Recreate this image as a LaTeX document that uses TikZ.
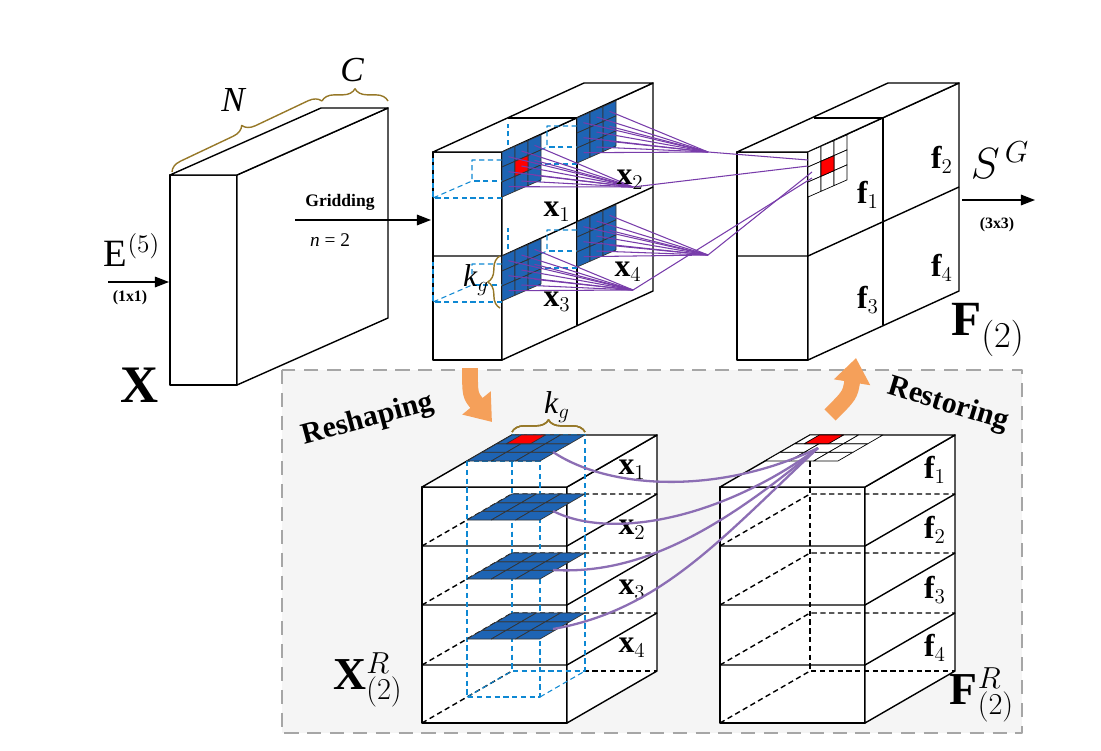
\documentclass[tikz,border=0pt]{standalone}
\usepackage{fontspec}
\setmainfont{Liberation Serif}
\usetikzlibrary{arrows.meta,positioning,decorations.pathreplacing}
\definecolor{gridblue}{RGB}{30,100,180}
\definecolor{braceol}{RGB}{150,120,40}
\definecolor{fanpurple}{RGB}{120,60,170}
\definecolor{curvepurple}{RGB}{140,110,180}
\definecolor{arrorange}{RGB}{245,160,90}
% vertical 3x3 grid on a side face: top-left corner, fill, lines, centre fill
\newcommand{\sidegrid}[5]{%
  \foreach \i in {0,1,2} \foreach \j in {0,1,2}
    \filldraw[fill=#3,draw=#4] (#1+\i*13,#2-\i*5.7+\j*15) -- ++(13,-5.7) -- ++(0,15) -- ++(-13,5.7) -- cycle;
  \filldraw[fill=#5,draw=#4] (#1+13,#2-5.7+15) -- ++(13,-5.7) -- ++(0,15) -- ++(-13,5.7) -- cycle;}
% flat 3x3 grid: front-left corner, fill, line colour
\newcommand{\flatgrid}[4]{%
  \foreach \i in {0,1,2} \foreach \j in {0,1,2}
    \filldraw[fill=#3,draw=#4] (#1+\i*24.3+\j*15,#2-\j*8.67) -- ++(24.3,0) -- ++(15,-8.67) -- ++(-24.3,0) -- cycle;}
\begin{document}
\begin{tikzpicture}[x=0.02cm,y=-0.02cm,line join=round]
  \tikzset{edge/.style={black,thick},
    hidden/.style={black,thick,dashed,dash pattern=on 3pt off 2pt},
    cyanline/.style={cyan!70!blue,semithick,dash pattern=on 3pt off 2pt},
    fan/.style={fanpurple,semithick},
    curve/.style={curvepurple,line width=1.3pt},
    lbl/.style={font=\fontsize{18}{18}\selectfont},
    bracebr/.style={braceol,thick,decorate,decoration={brace,amplitude=7pt}},
    flow/.style={arrorange,line width=9pt,-{Triangle[length=14pt,width=20pt]}}}
  \useasboundingbox (0,0) rectangle (1101,750);

  % dashed panel
  \draw[gray!70,fill=gray!8,thick,dash pattern=on 8pt off 5pt] (282,370) rectangle (1022,733);

  % input block X
  \draw[edge,fill=white] (170,175) rectangle (237,385);
  \draw[edge,fill=white] (237,175) -- (388,108) -- (388,318) -- (237,385) -- cycle;
  \draw[edge,fill=white] (170,175) -- (321,108) -- (388,108) -- (237,175) -- cycle;
  \draw[bracebr] (172,172) -- (322,101);
  \draw[bracebr] (322,101) -- (388,101);
  \node[font=\fontsize{20}{20}\selectfont\itshape] (N) at (233,100) {N};
  \node[font=\fontsize{20}{20}\selectfont\itshape] (C) at (352,70) {C};
  \node[font=\fontsize{30}{30}\selectfont\bfseries] (X) at (140,385) {X};
  \node[font=\fontsize{22}{22}\selectfont] (E) at (132,250) {E$^{(5)}$};
  \node[font=\fontsize{9}{9}\selectfont\bfseries] (E11) at (130,298) {(1x1)};
  \coordinate (ein) at (108,282);
  \coordinate (eout) at (169,282);
  \draw[thick,-{Triangle[length=8pt,width=6pt]}] (ein) -- (eout);

  % gridding
  \node[font=\fontsize{10}{10}\selectfont\bfseries] (grd) at (340,202) {Gridding};
  \node[font=\fontsize{11}{11}\selectfont] (n2) at (330,240) {\textit{n} = 2};
  \coordinate (gin) at (295,220);
  \coordinate (gout) at (431,220);
  \draw[thick,-{Triangle[length=8pt,width=6pt]}] (gin) -- (gout);

  % gridded block
  \draw[edge,fill=white] (433,152) rectangle (502,360);
  \draw[edge,fill=white] (502,152) -- (653,83) -- (653,291) -- (502,360) -- cycle;
  \draw[edge,fill=white] (433,152) -- (584,83) -- (653,83) -- (502,152) -- cycle;
  \draw[edge] (433,256) -- (502,256) -- (653,187);
  \draw[edge] (577,118) -- (577,325);
  \draw[edge] (508,118) -- (577,118);
  \foreach \gx/\gy in {502/152,577/118,502/256,577/222}{
    \draw[cyanline] (\gx,\gy+46) -- (\gx-69,\gy+46) -- (\gx-69,\gy+6);
    \draw[cyanline] (\gx,\gy+8) -- (\gx-30,\gy+8) -- (\gx-30,\gy+29) -- (\gx-69,\gy+46);
    \draw[cyanline] (\gx+39,\gy+29) -- (\gx-30,\gy+29);}
  \sidegrid{502}{152}{gridblue}{black!80}{red}
  \sidegrid{577}{118}{gridblue}{black!80}{gridblue}
  \sidegrid{502}{256}{gridblue}{black!80}{gridblue}
  \sidegrid{577}{222}{gridblue}{black!80}{gridblue}
  \draw[bracebr] (500,308) -- (500,256);
  \node[font=\fontsize{18}{18}\selectfont\itshape] (kg) at (476,280) {k$_g$};

  % output block F
  \draw[edge,fill=white] (737,152) rectangle (808,360);
  \draw[edge,fill=white] (808,152) -- (959,83) -- (959,291) -- (808,360) -- cycle;
  \draw[edge,fill=white] (737,152) -- (888,83) -- (959,83) -- (808,152) -- cycle;
  \draw[edge] (737,256) -- (808,256) -- (959,187);
  \draw[edge] (883,118) -- (883,325);
  \draw[edge] (814,118) -- (883,118);
  \sidegrid{808}{152}{white}{black}{red}
  \coordinate (fc) at (826,170);

  % fans
  \foreach \gx/\gy/\px/\py/\tx/\ty in {502/152/633/187/808/166, 577/118/708/152/808/160,
      502/256/633/290/812/178, 577/222/708/255/812/172}{
    \foreach \i in {0,1,2} \foreach \j in {0,1,2}
      \draw[fan] (\gx+\i*13+6.5,\gy-\i*5.7-2.8+\j*15+7.5) -- (\px,\py);
    \draw[fan] (\px,\py) -- (\tx,\ty);}

  \node[lbl] (x1) at (557,212) {$\mathbf{x}_1$};
  \node[lbl] (x2) at (630,180) {$\mathbf{x}_2$};
  \node[lbl] (x3) at (557,302) {$\mathbf{x}_3$};
  \node[lbl] (x4) at (628,272) {$\mathbf{x}_4$};
  \node[lbl] (f1) at (868,195) {$\mathbf{f}_1$};
  \node[lbl] (f2) at (942,160) {$\mathbf{f}_2$};
  \node[lbl] (f3) at (868,300) {$\mathbf{f}_3$};
  \node[lbl] (f4) at (942,268) {$\mathbf{f}_4$};
  \node[font=\fontsize{28}{28}\selectfont] (F) at (988,330) {$\mathbf{F}_{(2)}$};
  \node[font=\fontsize{26}{26}\selectfont] (SG) at (1000,160) {$S^{\,G}$};
  \node[font=\fontsize{9}{9}\selectfont\bfseries] (S33) at (997,225) {(3x3)};
  \coordinate (sin) at (962,200);
  \coordinate (sout) at (1035,200);
  \draw[thick,-{Triangle[length=8pt,width=6pt]}] (sin) -- (sout);

  % orange flows
  \coordinate (rs1) at (470,368);
  \coordinate (rs2) at (492,422);
  \coordinate (rt1) at (830,415);
  \coordinate (rt2) at (856,358);
  \draw[flow] (rs1) .. controls (470,395) .. (rs2);
  \draw[flow] (rt1) .. controls (850,395) .. (rt2);
  \node[font=\fontsize{17}{17}\selectfont\bfseries,rotate=15] (resh) at (368,420) {Reshaping};
  \node[font=\fontsize{17}{17}\selectfont\bfseries,rotate=-17] (rest) at (948,405) {Restoring};

  % reshaped block X^R
  \draw[edge,fill=white] (422,487) rectangle (567,723);
  \draw[edge,fill=white] (567,487) -- (657,435) -- (657,671) -- (567,723) -- cycle;
  \draw[edge,fill=white] (422,487) -- (512,435) -- (657,435) -- (567,487) -- cycle;
  \draw[hidden] (512,435) -- (512,671) -- (657,671);
  \draw[hidden] (422,723) -- (512,671);
  \foreach \ly in {546,605,665}{
    \draw[edge] (422,\ly) -- (567,\ly) -- (657,\ly-52);
    \draw[hidden] (422,\ly) -- (512,\ly-52) -- (657,\ly-52);}
  \draw[cyanline] (467,461) rectangle (540,697);
  \draw[cyanline] (512,435) rectangle (585,671);
  \draw[cyanline] (540,697) -- (585,671);
  \draw[cyanline] (467,697) -- (512,671);
  \flatgrid{467}{461}{gridblue}{black!80}
  \filldraw[fill=red,draw=black!80] (467+24.3+15,461-8.67*2) -- ++(24.3,0) -- ++(15,-8.67) -- ++(-24.3,0) -- cycle;
  \foreach \ly in {546,605,665}
    \flatgrid{467}{\ly-26}{gridblue}{black!80}
  \draw[bracebr] (512,432) -- (585,432);
  \node[font=\fontsize{18}{18}\selectfont\itshape] (kg2) at (557,407) {k$_g$};
  \foreach \k/\ly in {1/470,2/530,3/590,4/648}
    \node[lbl] (xr\k) at (632,\ly) {$\mathbf{x}_\k$};
  \node[font=\fontsize{26}{26}\selectfont] (XR) at (368,680) {$\mathbf{X}^{R}_{(2)}$};

  % restored block F^R
  \draw[edge,fill=white] (720,487) rectangle (865,723);
  \draw[edge,fill=white] (865,487) -- (955,435) -- (955,671) -- (865,723) -- cycle;
  \draw[edge,fill=white] (720,487) -- (810,435) -- (955,435) -- (865,487) -- cycle;
  \draw[hidden] (810,435) -- (810,671) -- (955,671);
  \draw[hidden] (720,723) -- (810,671);
  \foreach \ly in {546,605,665}{
    \draw[edge] (720,\ly) -- (865,\ly) -- (955,\ly-52);
    \draw[hidden] (720,\ly) -- (810,\ly-52) -- (955,\ly-52);}
  \flatgrid{765}{461}{white}{black}
  \filldraw[fill=red,draw=black] (765+24.3+15,461-8.67*2) -- ++(24.3,0) -- ++(15,-8.67) -- ++(-24.3,0) -- cycle;
  \coordinate (frc) at (818,448);
  \foreach \k/\ly in {1/470,2/530,3/590,4/648}
    \node[lbl] (fr\k) at (935,\ly) {$\mathbf{f}_\k$};
  \node[font=\fontsize{26}{26}\selectfont] (FR) at (982,695) {$\mathbf{F}^{R}_{(2)}$};

  % connecting curves
  \coordinate (g1) at (553,452);
  \coordinate (g2) at (553,511);
  \coordinate (g3) at (553,570);
  \coordinate (g4) at (553,629);
  \draw[curve] (g1) .. controls (610,490) and (720,495) .. (frc);
  \draw[curve] (g2) .. controls (610,540) and (720,520) .. (frc);
  \draw[curve] (g3) .. controls (640,575) and (720,530) .. (frc);
  \draw[curve] (g4) .. controls (660,610) and (720,540) .. (frc);
\end{tikzpicture}
\end{document}
